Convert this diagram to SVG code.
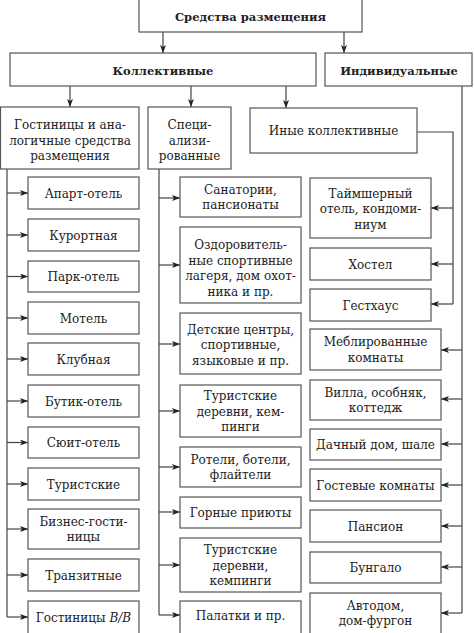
<svg xmlns="http://www.w3.org/2000/svg" width="474" height="633" viewBox="0 0 474 633">
<defs>
<marker id="ah" viewBox="0 0 8 6" refX="8" refY="3" markerWidth="8" markerHeight="6" markerUnits="userSpaceOnUse" orient="auto">
<path d="M0,0 L8,3 L0,6 L2,3 Z" fill="#222"/>
</marker>
<style>
rect{fill:#fff;stroke:#555;stroke-width:1.2}
text{font-family:"DejaVu Serif","Liberation Serif",serif;font-size:12px;fill:#222;text-anchor:middle}
.b{font-weight:bold;font-size:11.5px}
.c{fill:none;stroke:#444;stroke-width:1.2}
.a{marker-end:url(#ah)}
</style>
</defs>
<rect x="0" y="0" width="474" height="633" style="fill:#fff;stroke:none"/>

<g id="connectors">
<path class="c a" d="M163,32 V53"/>
<path class="c a" d="M344,32 V53"/>
<path class="c a" d="M70,86 V107"/>
<path class="c a" d="M191,86 V107"/>
<path class="c a" d="M286,86 V108"/>
<path class="c" d="M7,169 V617"/>
<path class="c a" d="M7,193 H28"/>
<path class="c a" d="M7,235 H28"/>
<path class="c a" d="M7,276.5 H28"/>
<path class="c a" d="M7,318 H28"/>
<path class="c a" d="M7,359 H28"/>
<path class="c a" d="M7,401 H28"/>
<path class="c a" d="M7,442.5 H28"/>
<path class="c a" d="M7,484 H28"/>
<path class="c a" d="M7,529 H28"/>
<path class="c a" d="M7,575 H28"/>
<path class="c a" d="M7,617 H28"/>
<path class="c" d="M159,169 V615"/>
<path class="c a" d="M159,198 H180"/>
<path class="c a" d="M159,265 H180"/>
<path class="c a" d="M159,344 H180"/>
<path class="c a" d="M159,411 H180"/>
<path class="c a" d="M159,467 H180"/>
<path class="c a" d="M159,512 H180"/>
<path class="c a" d="M159,565 H180"/>
<path class="c a" d="M159,615 H180"/>
<path class="c" d="M417,132 H453 V304"/>
<path class="c a" d="M453,208 H431"/>
<path class="c a" d="M453,264 H431"/>
<path class="c a" d="M453,304 H431"/>
<path class="c" d="M462,86 V613"/>
<path class="c a" d="M462,350 H441"/>
<path class="c a" d="M462,399 H441"/>
<path class="c a" d="M462,444 H441"/>
<path class="c a" d="M462,485 H441"/>
<path class="c a" d="M462,526 H441"/>
<path class="c a" d="M462,567 H441"/>
<path class="c a" d="M462,613 H441"/>
</g>

<g id="n-root"><rect x="139" y="-1" width="223" height="33"/><text class="b" x="250.5" y="21">Средства размещения</text></g>
<g id="n-koll"><rect x="10" y="53" width="306" height="33"/><text class="b" x="163" y="75">Коллективные</text></g>
<g id="n-ind"><rect x="325" y="53" width="147" height="33"/><text class="b" x="399" y="75">Индивидуальные</text></g>

<g id="n-gost"><rect x="0.5" y="107" width="138.5" height="62"/><text x="70" y="129">Гостиницы и ана-</text><text x="70" y="144.5">логичные средства</text><text x="70" y="160">размещения</text></g>
<g id="n-spec"><rect x="148" y="107" width="83" height="62"/><text x="189.5" y="129">Специ-</text><text x="189.5" y="144.5">ализи-</text><text x="189.5" y="160">рованные</text></g>
<g id="n-inye"><rect x="250" y="108" width="167" height="45"/><text x="333.5" y="135">Иные коллективные</text></g>

<g id="n-l1"><rect x="28" y="177" width="111" height="32"/><text x="83.5" y="197.5">Апарт-отель</text></g>
<g id="n-l2"><rect x="28" y="219" width="111" height="32"/><text x="83.5" y="239.5">Курортная</text></g>
<g id="n-l3"><rect x="28" y="261" width="111" height="31"/><text x="83.5" y="281">Парк-отель</text></g>
<g id="n-l4"><rect x="28" y="302" width="111" height="32"/><text x="83.5" y="322.5">Мотель</text></g>
<g id="n-l5"><rect x="28" y="343" width="111" height="32"/><text x="83.5" y="363.5">Клубная</text></g>
<g id="n-l6"><rect x="28" y="385" width="111" height="32"/><text x="83.5" y="405.5">Бутик-отель</text></g>
<g id="n-l7"><rect x="28" y="427" width="111" height="31"/><text x="83.5" y="447">Сюит-отель</text></g>
<g id="n-l8"><rect x="28" y="468" width="111" height="32"/><text x="83.5" y="488.5">Туристские</text></g>
<g id="n-l9"><rect x="28" y="509" width="111" height="40"/><text x="83.5" y="525.5">Бизнес-гости-</text><text x="83.5" y="541">ницы</text></g>
<g id="n-l10"><rect x="28" y="559" width="111" height="32"/><text x="83.5" y="579.5">Транзитные</text></g>
<g id="n-l11"><rect x="28" y="601" width="111" height="40"/><text x="83.5" y="621.5">Гостиницы <tspan font-style="italic">B/B</tspan></text></g>

<g id="n-m1"><rect x="180" y="177" width="121" height="40"/><text x="240.5" y="193.5">Санатории,</text><text x="240.5" y="209">пансионаты</text></g>
<g id="n-m2"><rect x="180" y="227" width="121" height="76"/><text x="240.5" y="249">Оздоровитель-</text><text x="240.5" y="264.5">ные спортивные</text><text x="240.5" y="280">лагеря, дом охот-</text><text x="240.5" y="295.5">ника и пр.</text></g>
<g id="n-m3"><rect x="180" y="313" width="121" height="61"/><text x="240.5" y="333.5">Детские центры,</text><text x="240.5" y="349">спортивные,</text><text x="240.5" y="364.5">языковые и пр.</text></g>
<g id="n-m4"><rect x="180" y="385" width="121" height="52"/><text x="240.5" y="400">Туристские</text><text x="240.5" y="415.5">деревни, кем-</text><text x="240.5" y="431">пинги</text></g>
<g id="n-m5"><rect x="180" y="447" width="121" height="40"/><text x="240.5" y="463.5">Ротели, ботели,</text><text x="240.5" y="479">флайтели</text></g>
<g id="n-m6"><rect x="180" y="497" width="121" height="31"/><text x="240.5" y="517">Горные приюты</text></g>
<g id="n-m7"><rect x="180" y="538" width="121" height="54"/><text x="240.5" y="554">Туристские</text><text x="240.5" y="569.5">деревни,</text><text x="240.5" y="585">кемпинги</text></g>
<g id="n-m8"><rect x="180" y="601" width="121" height="40"/><text x="240.5" y="619.5">Палатки и пр.</text></g>

<g id="n-r1"><rect x="310" y="178" width="121" height="60"/><text x="370.5" y="197.5">Таймшерный</text><text x="370.5" y="213">отель, кондоми-</text><text x="370.5" y="228.5">ниум</text></g>
<g id="n-r2"><rect x="310" y="248" width="121" height="32"/><text x="370.5" y="268.5">Хостел</text></g>
<g id="n-r3"><rect x="310" y="289" width="121" height="32"/><text x="370.5" y="309.5">Гестхаус</text></g>
<g id="n-r4"><rect x="310" y="329" width="131" height="41"/><text x="375.5" y="346">Меблированные</text><text x="375.5" y="361.5">комнаты</text></g>
<g id="n-r5"><rect x="310" y="380" width="131" height="40"/><text x="375.5" y="396.5">Вилла, особняк,</text><text x="375.5" y="412">коттедж</text></g>
<g id="n-r6"><rect x="310" y="429" width="131" height="31"/><text x="375.5" y="449">Дачный дом, шале</text></g>
<g id="n-r7"><rect x="310" y="469" width="131" height="32"/><text x="375.5" y="489.5">Гостевые комнаты</text></g>
<g id="n-r8"><rect x="310" y="510" width="131" height="32"/><text x="375.5" y="530.5">Пансион</text></g>
<g id="n-r9"><rect x="310" y="552" width="131" height="31"/><text x="375.5" y="572">Бунгало</text></g>
<g id="n-r10"><rect x="310" y="593" width="131" height="48"/><text x="375.5" y="609.5">Автодом,</text><text x="375.5" y="625">дом-фургон</text></g>
</svg>
